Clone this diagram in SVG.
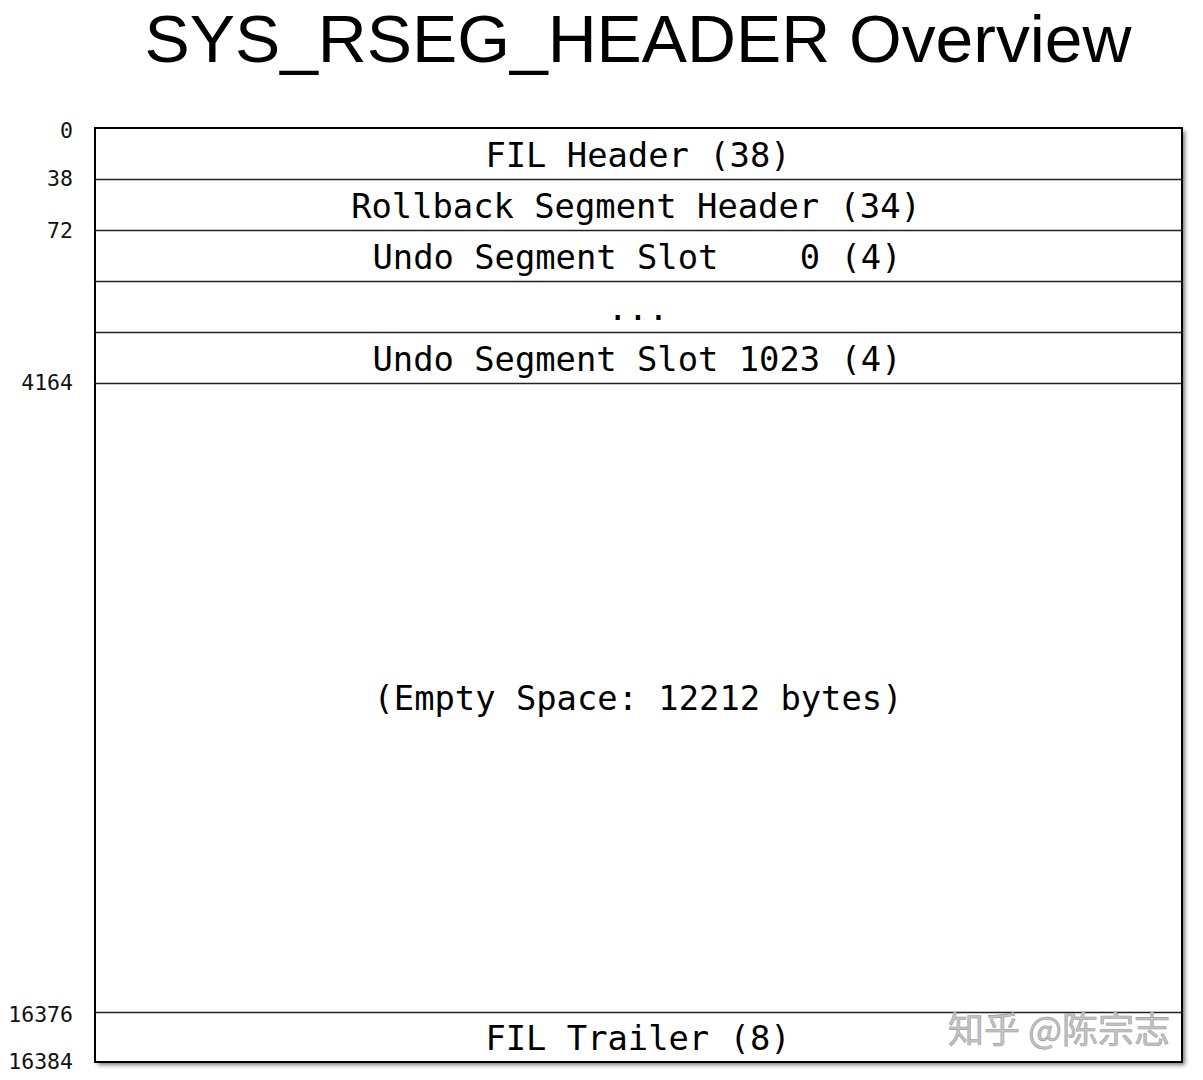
<svg xmlns="http://www.w3.org/2000/svg" width="1203" height="1080" viewBox="0 0 1203 1080">
<style>
.title{font-family:"Liberation Sans",Arial,sans-serif;font-size:66px;fill:#000}
.row{font-family:"DejaVu Sans Mono",monospace;font-size:33.8px;fill:#000;text-anchor:middle}
.off{font-family:"DejaVu Sans Mono",monospace;font-size:21.5px;fill:#111;text-anchor:end}
.sep{stroke:#222;stroke-width:1.6}
.wm{font-family:"Noto Sans CJK SC","Liberation Sans",sans-serif;font-size:36px;fill:#c4c4c4;stroke:#999;stroke-width:0.6}
</style>
<defs>
<filter id="sh" x="-5%" y="-5%" width="110%" height="110%"><feGaussianBlur stdDeviation="2"/></filter>
</defs>
<rect width="1203" height="1080" fill="#fff"/>
<text class="title" x="638" y="62" text-anchor="middle" textLength="987" lengthAdjust="spacingAndGlyphs">SYS_RSEG_HEADER Overview</text>
<g id="frame">
<rect x="98" y="131" width="1087" height="934" fill="#777" filter="url(#sh)"/>
<rect x="95" y="128" width="1087" height="934" fill="#fff" stroke="#000" stroke-width="2"/>
</g>
<g id="connectors">
<line class="sep" x1="95" y1="179.5" x2="1182" y2="179.5"/>
<line class="sep" x1="95" y1="230.5" x2="1182" y2="230.5"/>
<line class="sep" x1="95" y1="281.5" x2="1182" y2="281.5"/>
<line class="sep" x1="95" y1="332.5" x2="1182" y2="332.5"/>
<line class="sep" x1="95" y1="383.5" x2="1182" y2="383.5"/>
<line class="sep" x1="95" y1="1012.5" x2="1182" y2="1012.5"/>
</g>
<g id="fil-header"><text class="row" x="638" y="167">FIL Header (38)</text></g>
<g id="rseg-header"><text class="row" x="636" y="218">Rollback Segment Header (34)</text></g>
<g id="slot0"><text class="row" x="637" y="269" xml:space="preserve">Undo Segment Slot    0 (4)</text></g>
<g id="ellipsis"><text class="row" x="638" y="320">...</text></g>
<g id="slot1023"><text class="row" x="637" y="371">Undo Segment Slot 1023 (4)</text></g>
<g id="empty"><text class="row" x="638" y="710">(Empty Space: 12212 bytes)</text></g>
<g id="fil-trailer"><text class="row" x="638" y="1050">FIL Trailer (8)</text></g>
<g id="offsets">
<text class="off" x="73" y="138">0</text>
<text class="off" x="73" y="186">38</text>
<text class="off" x="73" y="238">72</text>
<text class="off" x="73" y="390">4164</text>
<text class="off" x="73" y="1022">16376</text>
<text class="off" x="73" y="1069">16384</text>
</g>
<text class="wm" x="948" y="1043">知乎 @陈宗志</text>
</svg>
